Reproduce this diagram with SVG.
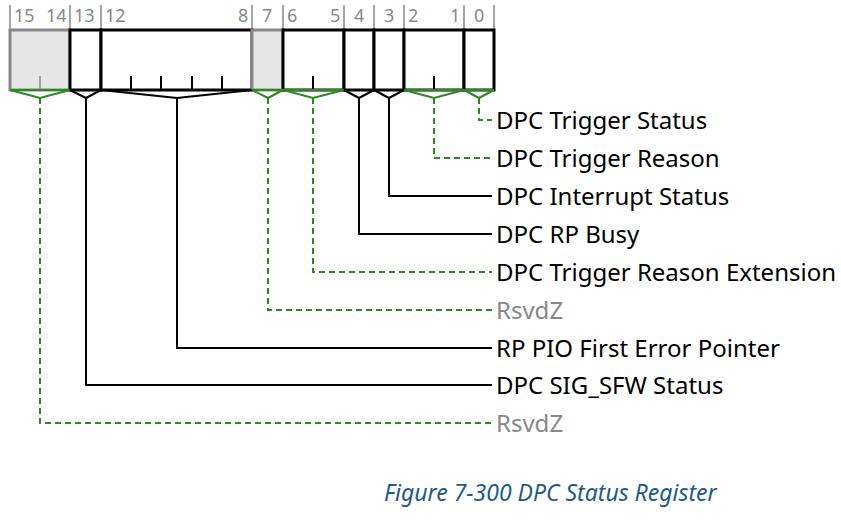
<svg xmlns="http://www.w3.org/2000/svg" width="841" height="527" viewBox="0 0 841 527">
<style>
.n{font-family:"Noto Sans",sans-serif;font-size:18px;fill:#888}
.l{font-family:"Noto Sans",sans-serif;font-size:24px;fill:#000}
.r{fill:#888}
.b{fill:#fff;stroke:#000;stroke-width:3}
.g{fill:#e6e6e6;stroke:#888;stroke-width:3}
.t{stroke:#000;stroke-width:2;fill:none}
.s{stroke:#000;stroke-width:2;fill:none}
.d{stroke:#2a8a1e;stroke-width:2;fill:none;stroke-dasharray:6,4}
.gc{stroke:#2a8a1e;stroke-width:2;fill:none}
.h{stroke:#888;stroke-width:1.5}
</style>
<rect width="841" height="527" fill="#fff"/>
<g id="header">
<path class="h" d="M10 5V30M70 5V30M101 5V30M252 5V30M283 5V30M344 5V30M374 5V30M404 5V30M464 5V30M494 5V30"/>
<text class="n" x="14" y="22">15</text><text class="n" x="46" y="22">14</text>
<text class="n" x="74" y="22">13</text><text class="n" x="105" y="22">12</text>
<text class="n" x="238" y="22">8</text><text class="n" x="262" y="22">7</text>
<text class="n" x="287" y="22">6</text><text class="n" x="330" y="22">5</text>
<text class="n" x="354" y="22">4</text><text class="n" x="384" y="22">3</text>
<text class="n" x="408" y="22">2</text><text class="n" x="450" y="22">1</text>
<text class="n" x="474" y="22">0</text>
</g>
<g id="f15_14"><rect class="g" x="10" y="30" width="60" height="60"/><path class="h" d="M40 76V90"/></g>
<g id="f13"><rect class="b" x="70" y="30" width="31" height="60"/></g>
<g id="f12_8"><rect class="b" x="101" y="30" width="151" height="60"/><path class="t" d="M131 76V90M161 76V90M192 76V90M222 76V90"/></g>
<g id="f7"><rect class="g" x="252" y="30" width="31" height="60"/></g>
<g id="f6_5"><rect class="b" x="283" y="30" width="61" height="60"/><path class="t" d="M313 76V90"/></g>
<g id="f4"><rect class="b" x="344" y="30" width="30" height="60"/></g>
<g id="f3"><rect class="b" x="374" y="30" width="30" height="60"/></g>
<g id="f2_1"><rect class="b" x="404" y="30" width="60" height="60"/><path class="t" d="M434 76V90"/></g>
<g id="f0"><rect class="b" x="464" y="30" width="30" height="60"/></g>
<g id="connectors">
<path class="gc" d="M10 90H70M10 90L40 98L70 90"/>
<path class="d" d="M40 98V423H492"/>
<path class="s" d="M70 90L86 98L101 90M86 98V385H492"/>
<path class="s" d="M101 90L177 98L252 90M177 98V348H492"/>
<path class="gc" d="M252 90H283M252 90L268 98L283 90"/>
<path class="d" d="M268 98V310H492"/>
<path class="gc" d="M283 90H344M283 90L313 98L344 90"/>
<path class="d" d="M313 98V272H492"/>
<path class="s" d="M344 90L359 98L374 90M359 98V234H492"/>
<path class="s" d="M374 90L389 98L404 90M389 98V196H492"/>
<path class="gc" d="M404 90H464M404 90L434 98L464 90"/>
<path class="d" d="M434 98V158H492"/>
<path class="gc" d="M464 90H494M464 90L479 98L494 90"/>
<path class="d" d="M479 98V120H492"/>
</g>
<g id="labels">
<text class="l" x="496" y="129">DPC Trigger Status</text>
<text class="l" x="496" y="167">DPC Trigger Reason</text>
<text class="l" x="496" y="205">DPC Interrupt Status</text>
<text class="l" x="496" y="243">DPC RP Busy</text>
<text class="l" x="496" y="281">DPC Trigger Reason Extension</text>
<text class="l r" x="496" y="319">RsvdZ</text>
<text class="l" x="496" y="357">RP PIO First Error Pointer</text>
<text class="l" x="496" y="394">DPC SIG_SFW Status</text>
<text class="l r" x="496" y="432">RsvdZ</text>
</g>
<text x="384" y="501" style="font-family:'Noto Sans',sans-serif;font-size:23px;font-style:italic;fill:#1f5a8a">Figure 7-300 DPC Status Register</text>
</svg>
